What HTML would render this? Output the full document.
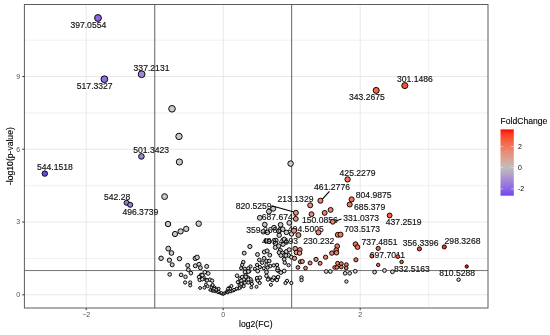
<!DOCTYPE html>
<html><head><meta charset="utf-8"><title>Volcano plot</title>
<style>html,body{margin:0;padding:0;background:#fff}svg{display:block}text{font-family:"Liberation Sans",Arial,sans-serif}</style></head><body>
<svg width="550" height="335" viewBox="0 0 550 335">
<rect width="550" height="335" fill="#fff"/>
<g><line x1="24.4" x2="488.0" y1="258.43" y2="258.43" stroke="#e0e0e0" stroke-width="0.5"/><line x1="24.4" x2="488.0" y1="185.68" y2="185.68" stroke="#e0e0e0" stroke-width="0.5"/><line x1="24.4" x2="488.0" y1="112.93" y2="112.93" stroke="#e0e0e0" stroke-width="0.5"/><line x1="24.4" x2="488.0" y1="40.18" y2="40.18" stroke="#e0e0e0" stroke-width="0.5"/><line y1="4.5" y2="308.0" x1="154.70" x2="154.70" stroke="#e0e0e0" stroke-width="0.5"/><line y1="4.5" y2="308.0" x1="291.70" x2="291.70" stroke="#e0e0e0" stroke-width="0.5"/><line y1="4.5" y2="308.0" x1="428.70" x2="428.70" stroke="#e0e0e0" stroke-width="0.5"/><line x1="24.4" x2="488.0" y1="294.80" y2="294.80" stroke="#e2e2e2" stroke-width="0.8"/><line x1="24.4" x2="488.0" y1="222.05" y2="222.05" stroke="#e2e2e2" stroke-width="0.8"/><line x1="24.4" x2="488.0" y1="149.30" y2="149.30" stroke="#e2e2e2" stroke-width="0.8"/><line x1="24.4" x2="488.0" y1="76.55" y2="76.55" stroke="#e2e2e2" stroke-width="0.8"/><line y1="4.5" y2="308.0" x1="86.20" x2="86.20" stroke="#e2e2e2" stroke-width="0.8"/><line y1="4.5" y2="308.0" x1="223.20" x2="223.20" stroke="#e2e2e2" stroke-width="0.8"/><line y1="4.5" y2="308.0" x1="360.20" x2="360.20" stroke="#e2e2e2" stroke-width="0.8"/></g>
<line x1="24.4" x2="488.0" y1="270.55" y2="270.55" stroke="#2a2a2a" stroke-width="0.65"/>
<line y1="4.5" y2="308.0" x1="154.75" x2="154.75" stroke="#2a2a2a" stroke-width="0.7"/>
<line y1="4.5" y2="308.0" x1="291.65" x2="291.65" stroke="#2a2a2a" stroke-width="0.7"/>
<g stroke="#000" stroke-width="0.95"><circle cx="190.9" cy="273.1" r="1.85" fill="#d6d6d6"/><circle cx="169.7" cy="274.4" r="1.83" fill="#d6d6d6"/><circle cx="181.1" cy="274.9" r="1.82" fill="#d6d6d6"/><circle cx="185.5" cy="276.8" r="1.78" fill="#d6d6d6"/><circle cx="185.1" cy="282.5" r="1.64" fill="#d6d6d6"/><circle cx="190.2" cy="282.5" r="1.64" fill="#d6d6d6"/><circle cx="190.2" cy="285.4" r="1.54" fill="#d6d6d6"/><circle cx="204.8" cy="272.2" r="1.87" fill="#d6d6d6"/><circle cx="208.2" cy="273.4" r="1.85" fill="#d6d6d6"/><circle cx="201.2" cy="274.9" r="1.82" fill="#d6d6d6"/><circle cx="199.0" cy="277.0" r="1.78" fill="#d6d6d6"/><circle cx="203.4" cy="277.0" r="1.78" fill="#d6d6d6"/><circle cx="199.7" cy="280.0" r="1.72" fill="#d6d6d6"/><circle cx="202.3" cy="279.2" r="1.74" fill="#d6d6d6"/><circle cx="206.3" cy="280.0" r="1.72" fill="#d6d6d6"/><circle cx="209.9" cy="279.7" r="1.73" fill="#d6d6d6"/><circle cx="212.1" cy="280.7" r="1.69" fill="#d6d6d6"/><circle cx="206.0" cy="284.6" r="1.57" fill="#d6d6d6"/><circle cx="200.1" cy="288.0" r="1.45" fill="#d6d6d6"/><circle cx="204.4" cy="287.7" r="1.47" fill="#d6d6d6"/><circle cx="212.1" cy="285.8" r="1.53" fill="#d6d6d6"/><circle cx="214.3" cy="287.3" r="1.48" fill="#d6d6d6"/><circle cx="213.6" cy="289.5" r="1.37" fill="#d6d6d6"/><circle cx="216.5" cy="288.7" r="1.41" fill="#d6d6d6"/><circle cx="218.7" cy="288.7" r="1.41" fill="#d6d6d6"/><circle cx="215.8" cy="291.4" r="1.26" fill="#d6d6d6"/><circle cx="219.4" cy="292.4" r="1.21" fill="#d6d6d6"/><circle cx="223.1" cy="293.6" r="1.14" fill="#d6d6d6"/><circle cx="226.0" cy="292.4" r="1.21" fill="#d6d6d6"/><circle cx="228.9" cy="288.0" r="1.45" fill="#d6d6d6"/><circle cx="202.3" cy="275.2" r="1.81" fill="#d6d6d6"/><circle cx="207.0" cy="280.4" r="1.70" fill="#d6d6d6"/><circle cx="207.6" cy="286.2" r="1.52" fill="#d6d6d6"/><circle cx="212.6" cy="285.0" r="1.56" fill="#d6d6d6"/><circle cx="212.2" cy="290.9" r="1.29" fill="#d6d6d6"/><circle cx="214.6" cy="291.2" r="1.27" fill="#d6d6d6"/><circle cx="217.5" cy="291.5" r="1.26" fill="#d6d6d6"/><circle cx="221.6" cy="293.8" r="1.13" fill="#d6d6d6"/><circle cx="223.3" cy="294.4" r="1.10" fill="#d6d6d6"/><circle cx="225.0" cy="293.2" r="1.16" fill="#d6d6d6"/><circle cx="226.8" cy="292.0" r="1.23" fill="#d6d6d6"/><circle cx="228.5" cy="290.9" r="1.29" fill="#d6d6d6"/><circle cx="230.3" cy="289.7" r="1.36" fill="#d6d6d6"/><circle cx="233.8" cy="290.5" r="1.31" fill="#d6d6d6"/><circle cx="236.1" cy="289.1" r="1.39" fill="#d6d6d6"/><circle cx="238.5" cy="288.5" r="1.42" fill="#d6d6d6"/><circle cx="237.0" cy="275.7" r="1.80" fill="#d6d6d6"/><circle cx="240.2" cy="278.6" r="1.75" fill="#d6d6d6"/><circle cx="237.9" cy="282.1" r="1.65" fill="#d6d6d6"/><circle cx="240.8" cy="281.6" r="1.67" fill="#d6d6d6"/><circle cx="239.6" cy="285.0" r="1.56" fill="#d6d6d6"/><circle cx="242.0" cy="284.5" r="1.57" fill="#d6d6d6"/><circle cx="243.7" cy="286.2" r="1.52" fill="#d6d6d6"/><circle cx="244.9" cy="282.7" r="1.63" fill="#d6d6d6"/><circle cx="244.9" cy="279.2" r="1.74" fill="#d6d6d6"/><circle cx="247.2" cy="281.0" r="1.69" fill="#d6d6d6"/><circle cx="246.6" cy="277.5" r="1.77" fill="#d6d6d6"/><circle cx="249.0" cy="278.6" r="1.75" fill="#d6d6d6"/><circle cx="251.3" cy="281.0" r="1.69" fill="#d6d6d6"/><circle cx="251.9" cy="283.9" r="1.59" fill="#d6d6d6"/><circle cx="251.3" cy="287.4" r="1.48" fill="#d6d6d6"/><circle cx="256.5" cy="286.8" r="1.50" fill="#d6d6d6"/><circle cx="257.1" cy="279.2" r="1.74" fill="#d6d6d6"/><circle cx="249.0" cy="271.1" r="1.89" fill="#d6d6d6"/><circle cx="246.0" cy="272.2" r="1.87" fill="#d6d6d6"/><circle cx="257.7" cy="271.1" r="1.89" fill="#d6d6d6"/><circle cx="278.7" cy="271.0" r="1.89" fill="#d6d6d6"/><circle cx="284.2" cy="271.0" r="1.89" fill="#d6d6d6"/><circle cx="280.9" cy="272.6" r="1.86" fill="#d6d6d6"/><circle cx="266.5" cy="272.1" r="1.87" fill="#d6d6d6"/><circle cx="248.3" cy="271.5" r="1.88" fill="#d6d6d6"/><circle cx="245.0" cy="272.1" r="1.87" fill="#d6d6d6"/><circle cx="245.5" cy="275.4" r="1.81" fill="#d6d6d6"/><circle cx="242.2" cy="277.0" r="1.78" fill="#d6d6d6"/><circle cx="247.7" cy="277.6" r="1.77" fill="#d6d6d6"/><circle cx="250.5" cy="279.3" r="1.73" fill="#d6d6d6"/><circle cx="257.1" cy="278.1" r="1.76" fill="#d6d6d6"/><circle cx="259.9" cy="277.6" r="1.77" fill="#d6d6d6"/><circle cx="266.5" cy="275.9" r="1.80" fill="#d6d6d6"/><circle cx="268.7" cy="278.7" r="1.75" fill="#d6d6d6"/><circle cx="272.6" cy="279.3" r="1.73" fill="#d6d6d6"/><circle cx="275.4" cy="278.1" r="1.76" fill="#d6d6d6"/><circle cx="278.1" cy="277.0" r="1.78" fill="#d6d6d6"/><circle cx="287.0" cy="280.9" r="1.69" fill="#d6d6d6"/><circle cx="277.5" cy="269.9" r="1.91" fill="#d6d6d6"/><circle cx="245.7" cy="276.9" r="1.78" fill="#d6d6d6"/><circle cx="243.8" cy="279.5" r="1.73" fill="#d6d6d6"/><circle cx="248.3" cy="279.5" r="1.73" fill="#d6d6d6"/><circle cx="241.3" cy="280.7" r="1.69" fill="#d6d6d6"/><circle cx="248.3" cy="282.6" r="1.63" fill="#d6d6d6"/><circle cx="241.3" cy="283.9" r="1.59" fill="#d6d6d6"/><circle cx="240.6" cy="287.1" r="1.49" fill="#d6d6d6"/><circle cx="257.8" cy="280.7" r="1.69" fill="#d6d6d6"/><circle cx="259.7" cy="283.0" r="1.62" fill="#d6d6d6"/><circle cx="268.0" cy="279.5" r="1.73" fill="#d6d6d6"/><circle cx="272.4" cy="280.1" r="1.71" fill="#d6d6d6"/><circle cx="273.7" cy="277.5" r="1.77" fill="#d6d6d6"/><circle cx="276.9" cy="280.1" r="1.71" fill="#d6d6d6"/><circle cx="270.9" cy="284.8" r="1.56" fill="#d6d6d6"/><circle cx="285.5" cy="283.0" r="1.62" fill="#d6d6d6"/><circle cx="291.3" cy="283.0" r="1.62" fill="#d6d6d6"/><circle cx="301.5" cy="277.5" r="1.77" fill="#d6d6d6"/><circle cx="301.5" cy="280.1" r="1.71" fill="#d6d6d6"/><circle cx="345.1" cy="273.3" r="1.85" fill="#d6d6d6"/><circle cx="349.7" cy="273.3" r="1.85" fill="#d6d6d6"/><circle cx="355.3" cy="271.3" r="1.89" fill="#d6d6d6"/><circle cx="346.4" cy="281.5" r="1.67" fill="#d6d6d6"/><circle cx="374.6" cy="272.1" r="1.87" fill="#d6d6d6"/><circle cx="384.5" cy="270.5" r="1.90" fill="#d6d6d6"/><circle cx="392.4" cy="271.8" r="1.88" fill="#d6d6d6"/><circle cx="458.6" cy="279.7" r="1.73" fill="#d6d6d6"/><circle cx="326.2" cy="271.5" r="1.88" fill="#d6d6d6"/><circle cx="330.3" cy="271.5" r="1.88" fill="#d6d6d6"/><circle cx="210.2" cy="290.0" r="1.34" fill="#d6d6d6"/><circle cx="213.4" cy="290.6" r="1.31" fill="#d6d6d6"/><circle cx="217.9" cy="292.5" r="1.20" fill="#d6d6d6"/><circle cx="220.4" cy="293.2" r="1.16" fill="#d6d6d6"/><circle cx="211.7" cy="287.6" r="1.47" fill="#d6d6d6"/><circle cx="213.2" cy="288.7" r="1.41" fill="#d6d6d6"/><circle cx="214.2" cy="288.8" r="1.40" fill="#d6d6d6"/><circle cx="216.2" cy="289.8" r="1.35" fill="#d6d6d6"/><circle cx="218.9" cy="291.5" r="1.26" fill="#d6d6d6"/><circle cx="221.4" cy="292.7" r="1.19" fill="#d6d6d6"/><circle cx="224.0" cy="293.2" r="1.16" fill="#d6d6d6"/><circle cx="227.2" cy="290.8" r="1.29" fill="#d6d6d6"/><circle cx="228.0" cy="290.1" r="1.33" fill="#d6d6d6"/><circle cx="229.1" cy="289.6" r="1.36" fill="#d6d6d6"/><circle cx="230.2" cy="288.7" r="1.41" fill="#d6d6d6"/><circle cx="227.9" cy="292.7" r="1.19" fill="#d6d6d6"/><circle cx="229.2" cy="291.3" r="1.27" fill="#d6d6d6"/><circle cx="231.0" cy="291.6" r="1.25" fill="#d6d6d6"/><circle cx="232.6" cy="290.6" r="1.31" fill="#d6d6d6"/><circle cx="234.0" cy="289.7" r="1.36" fill="#d6d6d6"/><circle cx="236.7" cy="288.5" r="1.42" fill="#d6d6d6"/><circle cx="239.6" cy="288.1" r="1.44" fill="#d6d6d6"/><circle cx="227.9" cy="288.7" r="1.41" fill="#d6d6d6"/><circle cx="231.4" cy="286.0" r="1.52" fill="#d6d6d6"/><circle cx="172.0" cy="108.8" r="3.32" fill="#c9c9c9"/><circle cx="179.0" cy="136.4" r="3.22" fill="#c9c9c9"/><circle cx="179.4" cy="162.0" r="3.12" fill="#c9c9c9"/><circle cx="290.6" cy="163.6" r="2.76" fill="#c9c9c9"/><circle cx="164.6" cy="196.6" r="2.93" fill="#c9c9c9"/><circle cx="168.0" cy="224.0" r="2.73" fill="#c9c9c9"/><circle cx="175.0" cy="234.0" r="2.61" fill="#c9c9c9"/><circle cx="180.6" cy="231.4" r="2.64" fill="#c9c9c9"/><circle cx="186.2" cy="228.9" r="2.67" fill="#c9c9c9"/><circle cx="198.7" cy="223.7" r="2.73" fill="#c9c9c9"/><circle cx="168.3" cy="248.6" r="2.43" fill="#c9c9c9"/><circle cx="171.5" cy="253.0" r="2.34" fill="#c9c9c9"/><circle cx="161.1" cy="258.3" r="2.23" fill="#c9c9c9"/><circle cx="169.4" cy="260.2" r="2.17" fill="#c9c9c9"/><circle cx="179.5" cy="258.7" r="2.22" fill="#c9c9c9"/><circle cx="195.3" cy="258.4" r="2.23" fill="#c9c9c9"/><circle cx="197.1" cy="257.4" r="2.25" fill="#c9c9c9"/><circle cx="172.2" cy="264.8" r="2.03" fill="#c9c9c9"/><circle cx="187.7" cy="265.4" r="2.01" fill="#c9c9c9"/><circle cx="195.3" cy="265.8" r="2.00" fill="#c9c9c9"/><circle cx="199.0" cy="264.3" r="2.05" fill="#c9c9c9"/><circle cx="200.4" cy="267.8" r="1.95" fill="#c9c9c9"/><circle cx="206.7" cy="266.4" r="1.98" fill="#c9c9c9"/><circle cx="188.3" cy="269.7" r="1.92" fill="#c9c9c9"/><circle cx="273.2" cy="208.7" r="2.49" fill="#c9c9c9"/><circle cx="268.9" cy="211.6" r="2.47" fill="#c9c9c9"/><circle cx="259.8" cy="217.8" r="2.43" fill="#c9c9c9"/><circle cx="264.8" cy="224.6" r="2.37" fill="#c9c9c9"/><circle cx="280.6" cy="224.8" r="2.37" fill="#c9c9c9"/><circle cx="289.3" cy="222.9" r="2.39" fill="#c9c9c9"/><circle cx="274.0" cy="227.7" r="2.34" fill="#c9c9c9"/><circle cx="282.7" cy="229.2" r="2.32" fill="#c9c9c9"/><circle cx="267.4" cy="232.4" r="2.28" fill="#c9c9c9"/><circle cx="263.3" cy="231.7" r="2.29" fill="#c9c9c9"/><circle cx="279.2" cy="235.2" r="2.24" fill="#c9c9c9"/><circle cx="286.4" cy="232.4" r="2.28" fill="#c9c9c9"/><circle cx="291.5" cy="233.9" r="2.26" fill="#c9c9c9"/><circle cx="278.7" cy="231.0" r="2.29" fill="#c9c9c9"/><circle cx="266.5" cy="241.0" r="2.17" fill="#c9c9c9"/><circle cx="269.3" cy="241.5" r="2.16" fill="#c9c9c9"/><circle cx="275.9" cy="240.4" r="2.18" fill="#c9c9c9"/><circle cx="275.4" cy="243.4" r="2.14" fill="#c9c9c9"/><circle cx="284.2" cy="239.3" r="2.19" fill="#c9c9c9"/><circle cx="283.1" cy="244.3" r="2.13" fill="#c9c9c9"/><circle cx="286.4" cy="242.1" r="2.16" fill="#c9c9c9"/><circle cx="275.4" cy="247.4" r="2.09" fill="#c9c9c9"/><circle cx="278.7" cy="246.0" r="2.11" fill="#c9c9c9"/><circle cx="249.9" cy="246.5" r="2.10" fill="#c9c9c9"/><circle cx="244.2" cy="253.1" r="1.98" fill="#c9c9c9"/><circle cx="257.5" cy="254.5" r="1.96" fill="#c9c9c9"/><circle cx="264.3" cy="252.0" r="2.01" fill="#c9c9c9"/><circle cx="267.1" cy="250.9" r="2.03" fill="#c9c9c9"/><circle cx="269.8" cy="255.1" r="1.94" fill="#c9c9c9"/><circle cx="280.3" cy="250.4" r="2.04" fill="#c9c9c9"/><circle cx="279.2" cy="252.6" r="2.00" fill="#c9c9c9"/><circle cx="282.5" cy="253.1" r="1.98" fill="#c9c9c9"/><circle cx="286.4" cy="251.5" r="2.02" fill="#c9c9c9"/><circle cx="289.2" cy="249.8" r="2.05" fill="#c9c9c9"/><circle cx="284.2" cy="255.4" r="1.94" fill="#c9c9c9"/><circle cx="288.6" cy="255.4" r="1.94" fill="#c9c9c9"/><circle cx="280.9" cy="255.5" r="1.94" fill="#c9c9c9"/><circle cx="285.9" cy="255.5" r="1.94" fill="#c9c9c9"/><circle cx="284.2" cy="259.4" r="1.85" fill="#c9c9c9"/><circle cx="291.4" cy="257.2" r="1.90" fill="#c9c9c9"/><circle cx="284.8" cy="262.7" r="1.75" fill="#c9c9c9"/><circle cx="288.6" cy="265.2" r="1.67" fill="#c9c9c9"/><circle cx="264.1" cy="258.3" r="1.88" fill="#c9c9c9"/><circle cx="259.3" cy="259.9" r="1.83" fill="#c9c9c9"/><circle cx="266.5" cy="261.0" r="1.80" fill="#c9c9c9"/><circle cx="262.1" cy="262.7" r="1.75" fill="#c9c9c9"/><circle cx="269.3" cy="261.0" r="1.80" fill="#c9c9c9"/><circle cx="243.3" cy="262.1" r="1.76" fill="#c9c9c9"/><circle cx="242.2" cy="264.9" r="1.68" fill="#c9c9c9"/><circle cx="250.5" cy="266.5" r="1.63" fill="#c9c9c9"/><circle cx="248.3" cy="268.2" r="1.60" fill="#c9c9c9"/><circle cx="241.1" cy="268.2" r="1.60" fill="#c9c9c9"/><circle cx="257.1" cy="264.9" r="1.68" fill="#c9c9c9"/><circle cx="259.9" cy="267.1" r="1.62" fill="#c9c9c9"/><circle cx="254.9" cy="268.8" r="1.58" fill="#c9c9c9"/><circle cx="263.8" cy="268.2" r="1.60" fill="#c9c9c9"/><circle cx="266.5" cy="264.9" r="1.68" fill="#c9c9c9"/><circle cx="267.6" cy="267.7" r="1.61" fill="#c9c9c9"/><circle cx="270.4" cy="266.0" r="1.65" fill="#c9c9c9"/><circle cx="273.7" cy="265.4" r="1.66" fill="#c9c9c9"/><circle cx="277.0" cy="264.9" r="1.68" fill="#c9c9c9"/><circle cx="277.6" cy="268.2" r="1.60" fill="#c9c9c9"/><circle cx="244.9" cy="268.7" r="1.59" fill="#c9c9c9"/></g>
<g stroke="#000" stroke-width="1.15"><line x1="271.5" y1="205.8" x2="294.9" y2="212.2"/><line x1="329.4" y1="191.3" x2="322.4" y2="199.2"/><line x1="341.5" y1="219.0" x2="333.4" y2="221.7"/></g>
<g font-size="8.6" fill="#111" stroke="#111" stroke-width="0.15"><text x="70.4" y="27.8">397.0554</text><text x="76.8" y="89.3">517.3327</text><text x="133.6" y="71.0">337.2131</text><text x="133.2" y="152.8">501.3423</text><text x="37" y="170.4">544.1518</text><text x="104" y="199.7">542.28</text><text x="122.4" y="214.8">496.3739</text><text x="349" y="99.9">343.2675</text><text x="397" y="82.4">301.1486</text><text x="339.6" y="175.9">425.2279</text><text x="314.1" y="190.0">461.2776</text><text x="277.6" y="202.0">213.1329</text><text x="235.8" y="209.2">820.5259</text><text x="355.8" y="198.4">804.9875</text><text x="354.1" y="210.0">685.379</text><text x="261.7" y="220.0">687.6741</text><text x="302" y="222.7">150.0856</text><text x="343.3" y="221.2">331.0373</text><text x="385.8" y="225.2">437.2519</text><text x="246.3" y="232.9">359.2666</text><text x="287.9" y="231.6">494.5005</text><text x="344.3" y="232.4">703.5173</text><text x="262.1" y="244.1">499.4493</text><text x="303.3" y="243.5">230.232</text><text x="361.6" y="244.8">737.4851</text><text x="402.8" y="245.6">356.3396</text><text x="444.6" y="243.7">298.3268</text><text x="369.8" y="258.0">697.7011</text><text x="394" y="271.7">832.5163</text><text x="439.2" y="275.5">810.5288</text></g>
<g stroke="#000" stroke-width="0.95"><circle cx="98.0" cy="18.0" r="3.42" fill="#8e67e3"/><circle cx="104.4" cy="79.2" r="3.38" fill="#916ce2"/><circle cx="141.6" cy="74.2" r="3.42" fill="#a284d8"/><circle cx="141.4" cy="156.4" r="2.82" fill="#a184d8"/><circle cx="44.8" cy="173.6" r="2.73" fill="#6d44f0"/><circle cx="126.6" cy="202.8" r="2.54" fill="#9b7adc"/><circle cx="130.2" cy="204.8" r="2.52" fill="#9d7cdb"/><circle cx="376.2" cy="90.4" r="3.02" fill="#f66647"/><circle cx="404.8" cy="85.6" r="3.04" fill="#f95335"/><circle cx="347.6" cy="179.4" r="2.68" fill="#f1765a"/><circle cx="320.4" cy="200.7" r="2.55" fill="#eb856c"/><circle cx="351.6" cy="199.4" r="2.56" fill="#f17457"/><circle cx="349.7" cy="204.5" r="2.52" fill="#f17558"/><circle cx="310.2" cy="205.3" r="2.52" fill="#e88b74"/><circle cx="295.9" cy="212.8" r="2.46" fill="#e4937e"/><circle cx="311.5" cy="214.2" r="2.45" fill="#e88a73"/><circle cx="324.7" cy="212.9" r="2.46" fill="#ec8369"/><circle cx="330.6" cy="209.9" r="2.48" fill="#ed8065"/><circle cx="295.8" cy="218.9" r="2.42" fill="#e4937e"/><circle cx="332.8" cy="221.8" r="2.40" fill="#ee7f64"/><circle cx="389.6" cy="215.5" r="2.44" fill="#f75d3e"/><circle cx="318.5" cy="232.4" r="2.53" fill="#ea866e"/><circle cx="298.4" cy="235.1" r="2.49" fill="#e5917c"/><circle cx="294.0" cy="230.7" r="2.55" fill="#e3947f"/><circle cx="337.8" cy="234.8" r="2.50" fill="#ef7c60"/><circle cx="340.5" cy="234.6" r="2.50" fill="#ef7a5f"/><circle cx="355.5" cy="244.2" r="2.38" fill="#f27255"/><circle cx="357.5" cy="247.1" r="2.35" fill="#f27153"/><circle cx="337.2" cy="246.2" r="2.36" fill="#ef7c61"/><circle cx="336.2" cy="250.1" r="2.30" fill="#ee7d62"/><circle cx="336.5" cy="252.8" r="2.24" fill="#ee7d61"/><circle cx="331.8" cy="253.1" r="2.23" fill="#ed7f64"/><circle cx="325.6" cy="257.2" r="2.15" fill="#ec8369"/><circle cx="295.2" cy="248.7" r="2.33" fill="#e4937e"/><circle cx="299.9" cy="249.9" r="2.30" fill="#e5917b"/><circle cx="296.4" cy="252.5" r="2.25" fill="#e4927d"/><circle cx="299.6" cy="253.1" r="2.23" fill="#e5917b"/><circle cx="294.5" cy="258.3" r="2.13" fill="#e4937f"/><circle cx="316.0" cy="259.4" r="2.10" fill="#ea886f"/><circle cx="310.1" cy="263.0" r="1.99" fill="#e88b74"/><circle cx="320.1" cy="263.3" r="1.98" fill="#eb866d"/><circle cx="300.4" cy="261.8" r="2.02" fill="#e5907b"/><circle cx="302.3" cy="261.5" r="2.03" fill="#e68f79"/><circle cx="297.9" cy="267.4" r="1.86" fill="#e5927c"/><circle cx="305.5" cy="268.1" r="1.85" fill="#e78d77"/><circle cx="355.9" cy="259.8" r="2.08" fill="#f27254"/><circle cx="337.6" cy="263.3" r="1.98" fill="#ef7c61"/><circle cx="341.3" cy="263.7" r="1.97" fill="#ef7a5e"/><circle cx="346.4" cy="264.7" r="1.93" fill="#f0775b"/><circle cx="334.7" cy="267.4" r="1.86" fill="#ee7e63"/><circle cx="336.9" cy="267.4" r="1.86" fill="#ee7c61"/><circle cx="341.3" cy="267.0" r="1.87" fill="#ef7a5e"/><circle cx="346.2" cy="268.0" r="1.85" fill="#f0775b"/><circle cx="378.2" cy="248.4" r="2.08" fill="#f66546"/><circle cx="419.4" cy="248.9" r="2.07" fill="#fb482b"/><circle cx="444.3" cy="246.9" r="2.10" fill="#fd3219"/><circle cx="371.8" cy="256.0" r="1.93" fill="#f5684a"/><circle cx="397.8" cy="256.6" r="1.91" fill="#f85839"/><circle cx="401.6" cy="261.9" r="1.77" fill="#f95537"/><circle cx="378.2" cy="264.9" r="1.68" fill="#f66546"/><circle cx="466.7" cy="266.5" r="1.63" fill="#ff0c03"/></g>
<rect x="24.4" y="4.5" width="463.6" height="303.5" fill="none" stroke="#5c5c5c" stroke-width="1"/>
<g font-size="7" fill="#4d4d4d"><line x1="22.2" x2="24.4" y1="294.80" y2="294.80" stroke="#333" stroke-width="0.95"/><text x="20.099999999999998" y="297.20" text-anchor="end">0</text><line x1="22.2" x2="24.4" y1="222.05" y2="222.05" stroke="#333" stroke-width="0.95"/><text x="20.099999999999998" y="224.45" text-anchor="end">3</text><line x1="22.2" x2="24.4" y1="149.30" y2="149.30" stroke="#333" stroke-width="0.95"/><text x="20.099999999999998" y="151.70" text-anchor="end">6</text><line x1="22.2" x2="24.4" y1="76.55" y2="76.55" stroke="#333" stroke-width="0.95"/><text x="20.099999999999998" y="78.95" text-anchor="end">9</text><line y1="308.0" y2="310.2" x1="86.20" x2="86.20" stroke="#333" stroke-width="0.95"/><text x="86.20" y="317.4" text-anchor="middle">−2</text><line y1="308.0" y2="310.2" x1="223.20" x2="223.20" stroke="#333" stroke-width="0.95"/><text x="223.20" y="317.4" text-anchor="middle">0</text><line y1="308.0" y2="310.2" x1="360.20" x2="360.20" stroke="#333" stroke-width="0.95"/><text x="360.20" y="317.4" text-anchor="middle">2</text></g>
<text x="255.8" y="327" font-size="8.6" text-anchor="middle" fill="#000" stroke="#000" stroke-width="0.12">log2(FC)</text>
<text transform="translate(12.8,156.1) rotate(-90)" font-size="8.6" text-anchor="middle" fill="#000" stroke="#000" stroke-width="0.12">-log10(p-value)</text>
<defs><linearGradient id="cb" x1="0" y1="0" x2="0" y2="1"><stop offset="0.0%" stop-color="#ff0000"/><stop offset="5.0%" stop-color="#fd3119"/><stop offset="10.0%" stop-color="#fb482a"/><stop offset="15.0%" stop-color="#f8593a"/><stop offset="20.0%" stop-color="#f56849"/><stop offset="25.0%" stop-color="#f17559"/><stop offset="30.0%" stop-color="#ec8268"/><stop offset="35.0%" stop-color="#e78e77"/><stop offset="40.0%" stop-color="#e09986"/><stop offset="45.0%" stop-color="#d9a496"/><stop offset="50.0%" stop-color="#cfaea5"/><stop offset="55.0%" stop-color="#c5b9b5"/><stop offset="60.0%" stop-color="#bcb8c1"/><stop offset="65.0%" stop-color="#b6aac8"/><stop offset="70.0%" stop-color="#af9cce"/><stop offset="75.0%" stop-color="#a78ed4"/><stop offset="80.0%" stop-color="#9f80da"/><stop offset="85.0%" stop-color="#9572df"/><stop offset="90.0%" stop-color="#8b64e5"/><stop offset="95.0%" stop-color="#7e55ea"/><stop offset="100.0%" stop-color="#6f46ef"/></linearGradient></defs>
<rect x="500.5" y="129.4" width="13.3" height="66.3" fill="url(#cb)"/>
<line x1="500.5" x2="503.1" y1="146.50" y2="146.50" stroke="#fff" stroke-width="0.5"/><line x1="511.19999999999993" x2="513.8" y1="146.50" y2="146.50" stroke="#fff" stroke-width="0.5"/><text x="518.0" y="148.90" font-size="7" fill="#000">2</text><line x1="500.5" x2="503.1" y1="167.70" y2="167.70" stroke="#fff" stroke-width="0.5"/><line x1="511.19999999999993" x2="513.8" y1="167.70" y2="167.70" stroke="#fff" stroke-width="0.5"/><text x="518.0" y="170.10" font-size="7" fill="#000">0</text><line x1="500.5" x2="503.1" y1="188.90" y2="188.90" stroke="#fff" stroke-width="0.5"/><line x1="511.19999999999993" x2="513.8" y1="188.90" y2="188.90" stroke="#fff" stroke-width="0.5"/><text x="518.0" y="191.30" font-size="7" fill="#000">-2</text>
<text x="500.5" y="124" font-size="8.6" fill="#000" stroke="#000" stroke-width="0.12">FoldChange</text>
</svg></body></html>
